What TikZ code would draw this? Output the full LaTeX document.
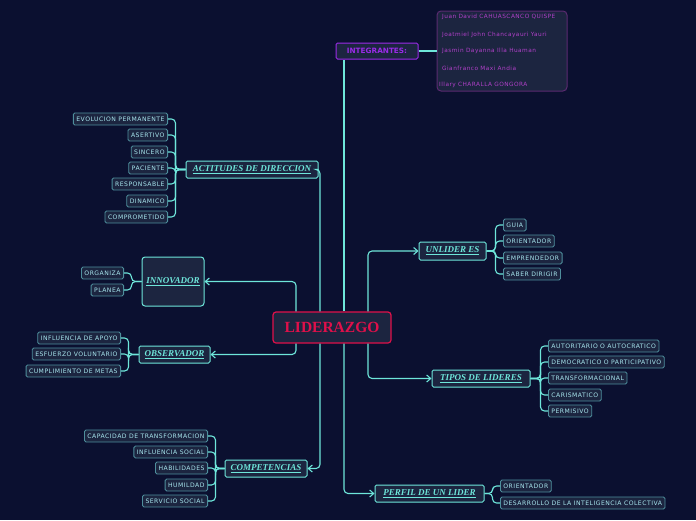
\documentclass[tikz,border=0pt]{standalone}
\usepackage{fontspec}
\setmainfont{Liberation Serif}
\newfontfamily\leaff[LetterSpace=8]{DejaVu Sans}
\newfontfamily\intf{DejaVu Sans}
\usetikzlibrary{arrows.meta,calc}
\definecolor{bg}{HTML}{0B1030}
\definecolor{nfill}{HTML}{1C2540}
\definecolor{turq}{HTML}{6EE6DA}
\definecolor{leafb}{HTML}{4E8E9C}
\definecolor{leaft}{HTML}{A8E6EE}
\definecolor{crim}{HTML}{E0104A}
\definecolor{purp}{HTML}{9A2BE8}
\definecolor{purpt}{HTML}{B040C8}
\definecolor{memb}{HTML}{5A2A70}
\begin{document}
\begin{tikzpicture}[x=1pt,y=-1pt,
 conn/.style={draw=turq,line width=1.1pt,rounded corners=4pt},
 arr/.style={conn,-{Straight Barb[length=4pt,width=7pt]}},
 leaf/.style={draw=leafb,fill=nfill,rounded corners=1.5pt,line width=0.9pt,text=leaft,font=\leaff\fontsize{6.1}{7}\selectfont,inner xsep=3pt,minimum height=12pt,inner ysep=0pt},
 branch/.style={draw=turq,fill=nfill,rounded corners=1.5pt,line width=1pt,text=turq,font=\bfseries\itshape\fontsize{9}{10}\selectfont,minimum height=17pt,inner ysep=0pt}]
\fill[bg] (0,0) rectangle (696,520);
\useasboundingbox (0,0) rectangle (696,520);
% center
\node[draw=crim,fill=nfill,rounded corners=3pt,line width=1.2pt,text=crim,font=\bfseries\fontsize{15.5}{16}\selectfont,minimum width=118pt,minimum height=31pt] (c) at (332,327.5) {LIDERAZGO};
% integrantes
\node[draw=purp,fill=nfill,rounded corners=1.5pt,line width=1pt,text=purp,font=\intf\bfseries\fontsize{7.3}{8}\selectfont,minimum width=82pt,minimum height=16pt,inner ysep=0pt] (int) at (377,51) {INTEGRANTES:};
\node[draw=memb,fill=nfill,rounded corners=4pt,line width=1pt,minimum width=130pt,minimum height=80pt] (mem) at (502,51) {};
\foreach \t/\yy/\xx in {Juan David CAHUASCANCO QUISPE/17/442,Joatmiel John Chancayauri Yauri/35/442,Jasmin Dayanna Illa Huaman/51/442,Gianfranco Maxi Andia/68/442,Illary CHARALLA GONGORA/85/439}
 \node[anchor=west,text=purpt,font=\leaff\fontsize{5.8}{7}\selectfont,inner sep=0pt] at (\xx,\yy) {\t};
\draw[conn] (int.east) -- (mem.west);
\draw[conn] ([xshift=12pt]c.north) -- ([xshift=12pt]c.north |- int.south);
% actitudes
\node[branch,minimum width=132pt] (act) at (252,169.5) {\underline{ACTITUDES DE DIRECCION}};
\draw[conn] ([xshift=-12pt]c.north) |- (act.east);
\foreach \n/\t/\yy in {a1/EVOLUCION PERMANENTE/119,a2/ASERTIVO/135,a3/SINCERO/152,a4/PACIENTE/168,a5/RESPONSABLE/184,a6/DINAMICO/201,a7/COMPROMETIDO/217}{
 \node[leaf,anchor=east] (\n) at (168,\yy) {\t};
 \draw[conn] (\n.east) -| ([xshift=-10pt]act.west) -- (act.west);}
% innovador
\node[branch,minimum width=62pt,minimum height=49pt,rounded corners=3pt] (inn) at (173,281.5) {\underline{INNOVADOR}};
\draw[arr] ([xshift=-36pt]c.north) |- (inn.east);
\foreach \n/\t/\yy in {i1/ORGANIZA/273,i2/PLANEA/290}{
 \node[leaf,anchor=east] (\n) at (124,\yy) {\t};
 \draw[conn] (\n.east) -| ([xshift=-10pt]inn.west) -- (inn.west);}
% observador
\node[branch,minimum width=71pt] (obs) at (174.5,354.5) {\underline{OBSERVADOR}};
\draw[arr] ([xshift=-36pt]c.south) |- (obs.east);
\foreach \n/\t/\yy in {o1/INFLUENCIA DE APOYO/338,o2/ESFUERZO VOLUNTARIO/354,o3/CUMPLIMIENTO DE METAS/371}{
 \node[leaf,anchor=east] (\n) at (121,\yy) {\t};
 \draw[conn] (\n.east) -| ([xshift=-10pt]obs.west) -- (obs.west);}
% competencias
\node[branch,minimum width=82pt] (com) at (266,468.5) {\underline{COMPETENCIAS}};
\draw[arr] ([xshift=-12pt]c.south) |- (com.east);
\foreach \n/\t/\yy in {k1/CAPACIDAD DE TRANSFORMACION/436,k2/INFLUENCIA SOCIAL/452,k3/HABILIDADES/468,k4/HUMILDAD/485,k5/SERVICIO SOCIAL/501}{
 \node[leaf,anchor=east] (\n) at (208,\yy) {\t};
 \draw[conn] (\n.east) -| ([xshift=-9pt]com.west) -- (com.west);}
% perfil
\node[branch,minimum width=109pt] (per) at (429.5,493.5) {\underline{PERFIL DE UN LIDER}};
\draw[arr] ([xshift=12pt]c.south) |- (per.west);
\foreach \n/\t/\yy in {p1/ORIENTADOR/486,p2/DESARROLLO DE LA INTELIGENCIA COLECTIVA/503}{
 \node[leaf,anchor=west] (\n) at (500,\yy) {\t};
 \draw[conn] (\n.west) -| ([xshift=8pt]per.east) -- (per.east);}
% unlider
\node[branch,minimum width=67pt,minimum height=18pt] (unl) at (452.5,251) {\underline{UNLIDER ES}};
\draw[arr] ([xshift=36pt]c.north) |- (unl.west);
\foreach \n/\t/\yy in {u1/GUIA/225,u2/ORIENTADOR/241,u3/EMPRENDEDOR/258,u4/SABER DIRIGIR/274}{
 \node[leaf,anchor=west] (\n) at (503,\yy) {\t};
 \draw[conn] (\n.west) -| ([xshift=9pt]unl.east) -- (unl.east);}
% tipos
\node[branch,minimum width=98pt] (tip) at (481,378.5) {\underline{TIPOS DE LIDERES}};
\draw[arr] ([xshift=36pt]c.south) |- (tip.west);
\foreach \n/\t/\yy in {t1/AUTORITARIO O AUTOCRATICO/346,t2/DEMOCRATICO O PARTICIPATIVO/362,t3/TRANSFORMACIONAL/378,t4/CARISMATICO/395,t5/PERMISIVO/411}{
 \node[leaf,anchor=west] (\n) at (548,\yy) {\t};
 \draw[conn] (\n.west) -| ([xshift=10pt]tip.east) -- (tip.east);}
\end{tikzpicture}
\end{document}
